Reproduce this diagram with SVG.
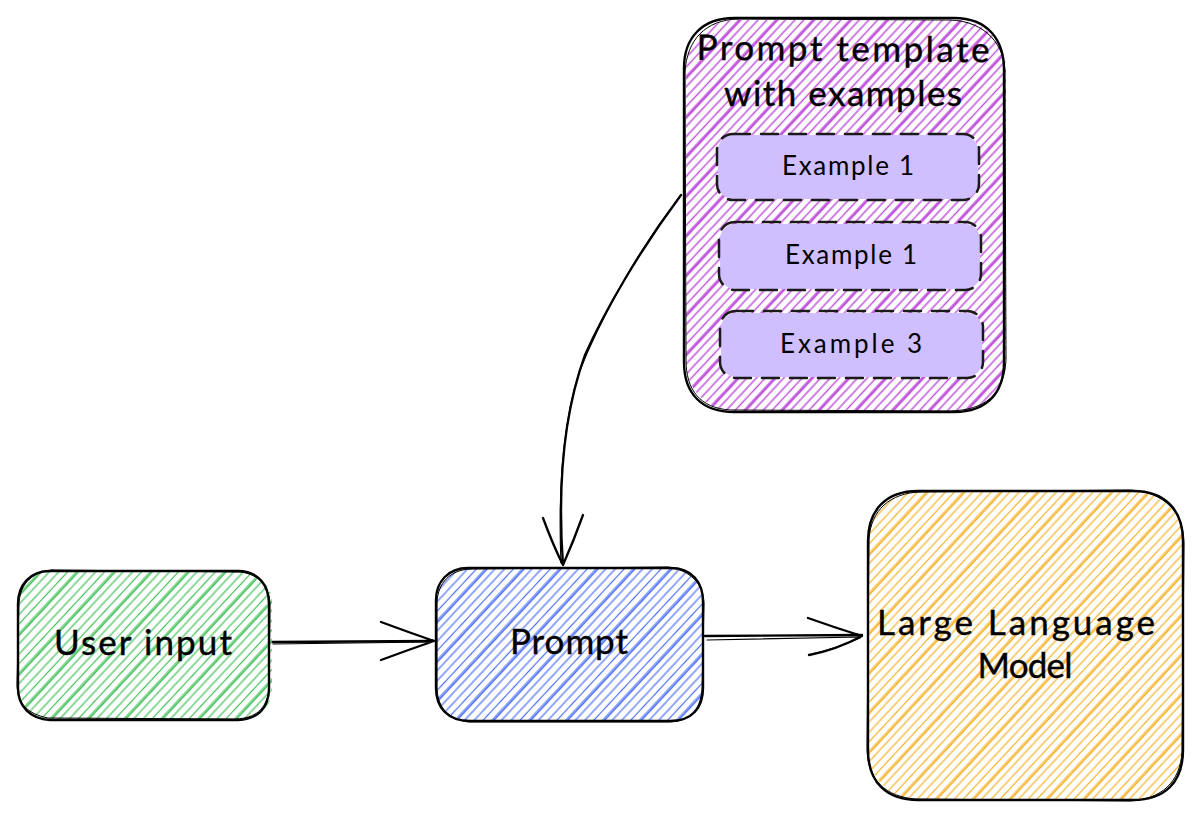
<svg xmlns="http://www.w3.org/2000/svg" width="1200" height="818" viewBox="0 0 1200 818">
<style>
.o{fill:none;stroke:#000;stroke-width:2.4;stroke-linecap:round;stroke-linejoin:round}
.t{fill:none;stroke:#000;stroke-width:1;stroke-linecap:round;stroke-linejoin:round}
.d{fill:none;stroke:#1a1a1a;stroke-width:2.5;stroke-dasharray:17 11;stroke-linecap:round}
.e{fill:#d0bfff;stroke:none}
.c{fill:none;stroke:#000;stroke-width:2.3;stroke-linecap:round;stroke-linejoin:round}
.c2{fill:none;stroke:#000;stroke-width:1.2;stroke-linecap:round;stroke-linejoin:round}
text{font-family:"Lato","Open Sans",sans-serif;fill:#000;text-anchor:middle}
.l{font-size:35px;stroke:#000;stroke-width:.4}
.s{font-size:26px}
</style>
<defs>
<pattern id="hg" width="27" height="60" patternUnits="userSpaceOnUse" patternTransform="rotate(43)"><path d="M1 0V60M7.5 0V60M14 0V60M15.5 0V60M21 0V60" stroke="#40c057" stroke-width="1.2" fill="none"/></pattern>
<pattern id="hb" width="27" height="60" patternUnits="userSpaceOnUse" patternTransform="rotate(43)"><path d="M1 0V60M7.5 0V60M14 0V60M15.5 0V60M21 0V60" stroke="#4c6ef5" stroke-width="1.2" fill="none"/></pattern>
<pattern id="hp" width="27" height="60" patternUnits="userSpaceOnUse" patternTransform="rotate(43)"><path d="M1 0V60M7.5 0V60M14 0V60M15.5 0V60M21 0V60" stroke="#be4bdb" stroke-width="1.4" fill="none"/></pattern>
<pattern id="hy" width="27" height="60" patternUnits="userSpaceOnUse" patternTransform="rotate(43)"><path d="M1 0V60M7.5 0V60M14 0V60M15.5 0V60M21 0V60" stroke="#f5b025" stroke-width="1.2" fill="none"/></pattern>
</defs>

<g id="connectors">
<path class="c" d="M272 642L434 641M381 622Q408 632 434 641Q408 650 381 660"/>
<path class="c2" d="M273 644L432 642"/>
<path class="c" d="M705 636L862 635M808 618Q836 628 862 636Q836 650 809 655"/>
<path class="c2" d="M707 640L860 637M812 654Q838 648 860 638"/>
<path class="c" d="M681 195C640 250 605 310 585 355C565 410 557 480 563 565M543 518Q553 545 563 565Q574 540 583 515"/>
<path class="c2" d="M679 198C636 252 598 325 580 370C562 425 558 490 561 563"/>
</g>

<g id="template">
<rect x="686" y="20" width="320" height="392" rx="50" fill="url(#hp)"/>
<path class="o" d="M734 18H954C988 18 1004 40 1004 70V362C1004 392 988 412 954 412H734C702 412 684 394 684 362V68C684 38 702 18 734 18Z"/>
<path class="t" d="M738 19L950 20C985 21 1006 45 1005 75L1006 360C1004 395 985 410 950 411L730 410C700 408 686 390 686 360L685 72C687 40 705 20 738 19Z"/>
<text class="l" x="843" y="61" textLength="293" lengthAdjust="spacing" transform="rotate(.5 843 61)">Prompt template</text>
<text class="l" x="843" y="106" textLength="238" lengthAdjust="spacing">with examples</text>
</g>

<g id="example-1">
<rect class="e" x="718" y="135" width="260" height="64" rx="15"/>
<rect class="d" x="717" y="134" width="262" height="66" rx="16"/>
<text class="s" x="848" y="175" textLength="132" lengthAdjust="spacing">Example 1</text>
</g>
<g id="example-2">
<rect class="e" x="720" y="224" width="260" height="65" rx="15"/>
<rect class="d" x="719" y="222" width="262" height="68" rx="16"/>
<text class="s" x="851" y="264" textLength="132" lengthAdjust="spacing">Example 1</text>
</g>
<g id="example-3">
<rect class="e" x="721" y="313" width="261" height="64" rx="15"/>
<rect class="d" x="720" y="311" width="263" height="67" rx="16"/>
<text class="s" x="851" y="353" textLength="142" lengthAdjust="spacing">Example 3</text>
</g>

<g id="user-input">
<rect x="19" y="572" width="253" height="148" rx="30" fill="url(#hg)"/>
<path class="o" d="M50 571H238C258 571 269 585 269 604V688C269 708 258 719 238 720H50C30 719 18 706 18 688V604C18 585 30 571 50 571Z"/>
<path class="t" d="M52 570L240 572C260 574 270 588 270 606L269 690C266 710 255 718 236 719L48 718C28 714 17 704 17 684L19 602C21 583 32 572 52 570Z"/>
<text class="l" x="143" y="655" textLength="178" lengthAdjust="spacing">User input</text>
</g>

<g id="prompt">
<rect x="437" y="569" width="266" height="153" rx="30" fill="url(#hb)"/>
<path class="o" d="M468 568H670C692 568 703 582 703 602V688C703 708 692 721 670 721H470C448 721 436 708 436 688V600C436 582 448 568 468 568Z"/>
<path class="t" d="M470 569L668 567C690 570 704 584 704 604L702 690C700 710 690 722 668 722L468 722C446 718 437 706 437 686L437 602C438 583 450 570 470 569Z"/>
<text class="l" x="569" y="654" textLength="118" lengthAdjust="spacing">Prompt</text>
</g>

<g id="llm">
<rect x="868" y="492" width="316" height="308" rx="50" fill="url(#hy)"/>
<path class="o" d="M918 491H1133C1165 491 1183 510 1183 541V750C1183 782 1165 800 1133 800H918C886 800 868 782 868 750V541C868 510 886 491 918 491Z"/>
<path class="t" d="M920 492L1130 490C1164 492 1184 512 1184 544L1182 752C1180 782 1162 799 1130 801L916 799C886 797 867 780 867 748L869 539C871 510 890 493 920 492Z"/>
<text class="l" x="1016" y="635" textLength="278" lengthAdjust="spacing">Large Language</text>
<text class="l" x="1025" y="678" textLength="95" lengthAdjust="spacing">Model</text>
</g>
</svg>
